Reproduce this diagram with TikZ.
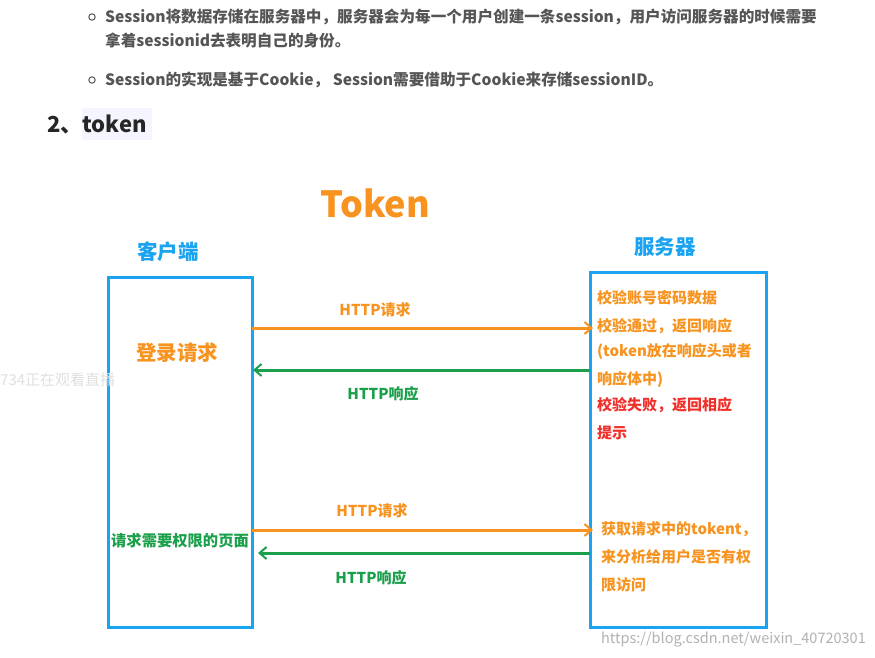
\documentclass[tikz,border=0pt]{standalone}
\usepackage{fontspec}
\setmainfont{Noto Sans CJK SC}
\usetikzlibrary{arrows.meta}
\definecolor{cblue}{HTML}{1AA3F0}
\definecolor{corange}{HTML}{F7931E}
\definecolor{cgreen}{HTML}{1AA04A}
\definecolor{cred}{HTML}{F0302A}
\definecolor{cgray}{HTML}{555555}
\tikzset{
  px/.style={x=1pt,y=-1pt},
  box/.style={draw=cblue,line width=3pt},
  arr/.style={line width=3pt,-{Straight Barb[length=7pt,width=12pt,line width=2pt]}},
  lbl/.style={font=\bfseries\fontsize{15}{17}\selectfont,anchor=west,inner sep=0pt},
  top/.style={font=\bfseries\fontsize{15.6}{18}\selectfont,text=cgray,anchor=west,inner sep=0pt}
}
\begin{document}
\begin{tikzpicture}[px]
\useasboundingbox[fill=white] (0,0) rectangle (875,658);
\draw[cgray,line width=1pt] (92,17) circle (3.2);
\node[top] (t1) at (105,17) {Session将数据存储在服务器中，服务器会为每一个用户创建一条session，用户访问服务器的时候需要};
\node[top] (t2) at (105,41) {拿着sessionid去表明自己的身份。};
\draw[cgray,line width=1pt] (92,80) circle (3.2);
\node[top] (t3) at (105,80) {Session的实现是基于Cookie， Session需要借助于Cookie来存储sessionID。};
\fill[blue!4] (82,108) rectangle (152,140);
\node[font=\bfseries\fontsize{22}{24}\selectfont,anchor=west,inner sep=0pt,text=black!85] (h) at (47,125) {2、token};
\node[font=\bfseries\fontsize{36}{38}\selectfont,text=corange] (title) at (375,203) {Token};
\node[font=\bfseries\fontsize{20.5}{23}\selectfont,text=cblue] (cl) at (168,252) {客户端};
\node[font=\bfseries\fontsize{20.5}{23}\selectfont,text=cblue] (sv) at (665,247) {服务器};
\draw[box] (108,277) rectangle (252,627);
\draw[box] (590,272) rectangle (766,627);
\coordinate (a1s) at (252,328); \coordinate (a1e) at (593,328);
\coordinate (a2s) at (590,370); \coordinate (a2e) at (253,370);
\coordinate (a3s) at (252,530); \coordinate (a3e) at (593,530);
\coordinate (a4s) at (590,553); \coordinate (a4e) at (258,553);
\draw[arr,corange] (a1s) -- (a1e);
\draw[arr,cgreen] (a2s) -- (a2e);
\draw[arr,corange] (a3s) -- (a3e);
\draw[arr,cgreen] (a4s) -- (a4e);
\node[lbl,text=corange,anchor=center] (l1) at (375,310) {HTTP请求};
\node[lbl,text=cgreen,anchor=center] (l2) at (383,394) {HTTP响应};
\node[lbl,text=corange,anchor=center] (l3) at (372,511) {HTTP请求};
\node[lbl,text=cgreen,anchor=center] (l4) at (371,578) {HTTP响应};
\node[font=\bfseries\fontsize{20.5}{23}\selectfont,text=corange] (login) at (177,353) {登录请求};
\node[font=\bfseries\fontsize{15.3}{17}\selectfont,text=cgreen] (page) at (180,541) {请求需要权限的页面};
\node[font=\fontsize{15}{17}\selectfont,text=black!12,anchor=west,inner sep=0pt] (wm1) at (0,380) {734正在观看直播};
\node[lbl,text=corange] (r1) at (597,298) {校验账号密码数据};
\node[lbl,text=corange] (r2) at (597,326) {校验通过，返回响应};
\node[lbl,text=corange] (r3) at (597,352) {(token放在响应头或者};
\node[lbl,text=corange] (r4) at (597,380) {响应体中)};
\node[lbl,text=cred] (r5) at (597,405) {校验失败，返回相应};
\node[lbl,text=cred] (r6) at (597,433) {提示};
\node[lbl,text=corange] (s1) at (601,529) {获取请求中的tokent，};
\node[lbl,text=corange] (s2) at (601,557) {来分析给用户是否有权};
\node[lbl,text=corange] (s3) at (601,585) {限访问};
\node[font=\fontsize{14.5}{16}\selectfont,text=black!30,anchor=east,inner sep=0pt] (wm2) at (866,640) {https://blog.csdn.net/weixin\_40720301};
\end{tikzpicture}
\end{document}
